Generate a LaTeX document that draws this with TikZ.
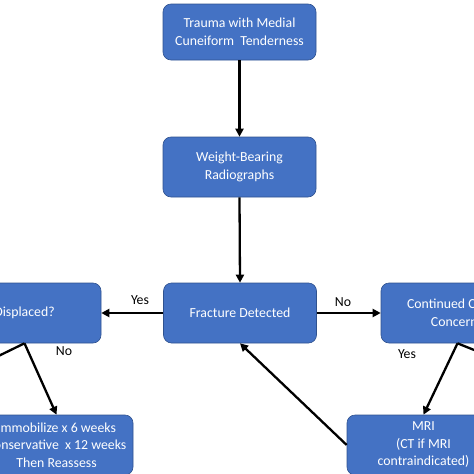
\documentclass[tikz,border=0pt]{standalone}
\usepackage{fontspec}
\setmainfont{Carlito}
\usetikzlibrary{arrows.meta}
\definecolor{boxfill}{HTML}{4472C4}
\definecolor{boxline}{HTML}{2F528F}
\tikzset{
  flowbox/.style={rectangle, rounded corners=8pt, fill=boxfill, draw=boxline, line width=0.6pt,
    minimum width=153pt, minimum height=60pt, text=white, align=center,
    font=\fontsize{13.8}{17.5}\selectfont, inner sep=2pt},
  conn/.style={line width=2.3pt, -{Triangle[length=8pt,width=8pt]}},
  plainconn/.style={line width=2.3pt},
  lbl/.style={font=\fontsize{13.8}{16}\selectfont, text=black, inner sep=0pt}
}
\begin{document}
\begin{tikzpicture}[x=1pt,y=-1pt]
\useasboundingbox (0,0) rectangle (474,474);
\clip (0,0) rectangle (474,474);
\node[flowbox, minimum height=56pt] (top) at (239.5,32) {Trauma with Medial\\Cuneiform\ \ Tenderness};
\node[flowbox] (wb) at (239.5,167) {Weight-Bearing\\Radiographs};
\node[flowbox] (frac) at (240,313) {Fracture Detected};
\node[flowbox] (disp) at (24.5,313) {Displaced?};
\node[flowbox] (cont) at (457.5,313) {Continued Clinical\\Concern?};
\node[flowbox] (mri) at (423.5,445) {MRI\\(CT if MRI\\contraindicated)};
\node[flowbox] (imm) at (56.5,445) {Immobilize x 6 weeks\\Conservative\ \ x 12 weeks\\Then Reassess};
\coordinate (offl) at (-20,365);
\coordinate (offr) at (494,358);
\draw[conn] (top.south) -- (wb.north);
\draw[conn] (wb.south) -- (frac.north);
\draw[conn] (frac.west) -- (disp.east);
\draw[conn] (frac.east) -- (cont.west);
\draw[conn] (disp.south) -- (imm.north);
\draw[plainconn] (disp.south) -- (offl);
\draw[conn] (cont.south) -- (mri.north);
\draw[plainconn] (cont.south) -- (offr);
\draw[conn] (mri.west) -- (frac.south);
\node[lbl] (ly1) at (140,300) {Yes};
\node[lbl] (ln1) at (343,302) {No};
\node[lbl] (ln2) at (64,351) {No};
\node[lbl] (ly2) at (407,354) {Yes};
\end{tikzpicture}
\end{document}
